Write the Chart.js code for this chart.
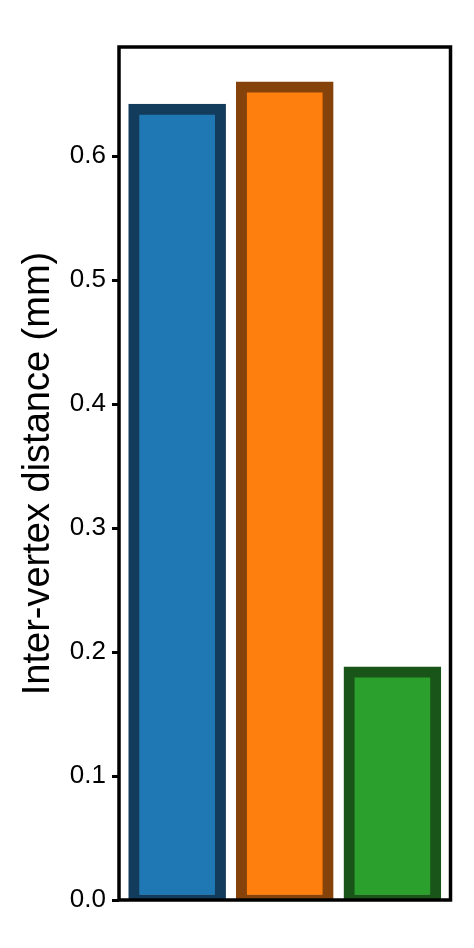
<!DOCTYPE html>
<html>
<head>
<meta charset="utf-8">
<script src="https://cdn.jsdelivr.net/npm/chart.js@4/dist/chart.umd.min.js"></script>
<style>
  html, body { margin: 0; padding: 0; background: #fff; }
  #wrap { width: 474px; height: 948px; }
</style>
</head>
<body>
<div id="wrap"><canvas id="barChart" width="474" height="948"></canvas></div>
<script>
const groups = ['A', 'B', 'C'];
const positions = [0, 1, 2];
const distances = [0.642, 0.660, 0.188];
const fillColors = ['#1f77b4', '#ff7f0e', '#2ca02c'];
const edgeColors = ['#133c5c', '#85430b', '#195419'];
const yTicks = [0.0, 0.1, 0.2, 0.3, 0.4, 0.5, 0.6];

// black box around the plot area
const frame = {
  id: 'frame',
  afterDatasetsDraw(chart) {
    const a = chart.chartArea;
    const c = chart.ctx;
    c.save();
    c.strokeStyle = '#000';
    c.lineWidth = 3.5;
    c.strokeRect(a.left, a.top, a.right - a.left, a.bottom - a.top);
    c.restore();
  }
};

const ctx = document.getElementById('barChart').getContext('2d');
new Chart(ctx, {
  type: 'bar',
  data: {
    labels: groups,
    datasets: [{
      data: positions.map((p, i) => ({ x: p, y: distances[i] })),
      backgroundColor: fillColors,
      borderColor: edgeColors,
      borderWidth: { top: 11, left: 11, right: 11, bottom: 5 },
      borderSkipped: false,
      barThickness: 97
    }]
  },
  options: {
    responsive: false,
    animation: false,
    layout: { padding: { left: 0, right: 23.5, top: 47, bottom: 48 } },
    plugins: { legend: { display: false }, tooltip: { enabled: false } },
    scales: {
      x: { type: 'linear', display: false, min: -0.54, max: 2.54, offset: false },
      y: {
        min: 0,
        max: 0.688,
        afterBuildTicks: (scale) => { scale.ticks = yTicks.map(v => ({ value: v })); },
        afterFit: (scale) => { scale.width = 119; },
        border: { display: false },
        grid: { drawOnChartArea: false, tickLength: 7, tickWidth: 3, tickColor: '#000' },
        ticks: {
          color: '#000',
          padding: 6,
          font: { family: 'Liberation Sans', size: 26 },
          callback: (v) => Number(v).toFixed(1)
        },
        title: {
          display: true,
          text: 'Inter-vertex distance (mm)',
          color: '#000',
          font: { family: 'Liberation Sans', size: 38 },
          padding: { top: 16, bottom: 0 }
        }
      }
    }
  },
  plugins: [frame]
});
</script>
</body>
</html>
